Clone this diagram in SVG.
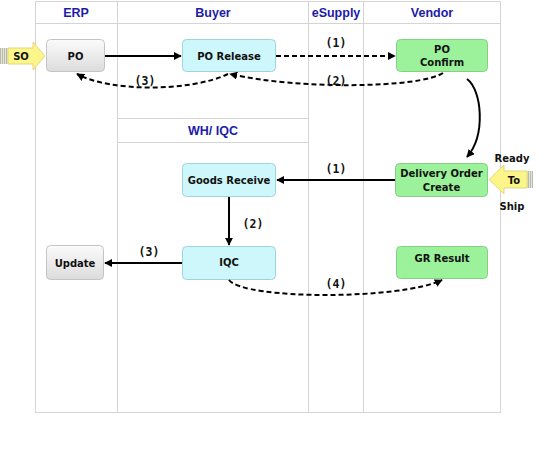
<svg xmlns="http://www.w3.org/2000/svg" width="553" height="453" viewBox="0 0 553 453">
<defs>
<style>
.grid{stroke:#d4d4d4;stroke-width:1;fill:none}
.hdr{font-family:"Liberation Sans",Arial,sans-serif;font-weight:bold;font-size:12.5px;fill:#1c1ca8;text-anchor:middle}
.nt{font-family:"DejaVu Sans",Verdana,sans-serif;font-weight:bold;font-size:10px;fill:#111;text-anchor:middle}
.lbl{font-family:"DejaVu Sans Mono","Liberation Mono",monospace;font-weight:bold;font-size:11.5px;fill:#111;text-anchor:middle}
.gray{fill:url(#gg);stroke:#c4c4c4;stroke-width:1}
.cyan{fill:#cdf7fa;stroke:#9fd4dc;stroke-width:1}
.green{fill:#9bf29b;stroke:#86d086;stroke-width:1}
.solid{stroke:#000;stroke-width:2;fill:none;marker-end:url(#ah)}
.dash{stroke:#000;stroke-width:2;fill:none;stroke-dasharray:5,3;marker-end:url(#ah)}
</style>
<linearGradient id="gg" x1="0" y1="0" x2="0" y2="1">
<stop offset="0" stop-color="#fbfbfb"/>
<stop offset="1" stop-color="#dcdcdc"/>
</linearGradient>
<marker id="ah" viewBox="0 0 10 10" refX="9" refY="5" markerWidth="4" markerHeight="4" orient="auto" markerUnits="strokeWidth">
<path d="M0,0 L10,5 L0,10 z" fill="#000"/>
</marker>
<pattern id="stripe" width="2" height="4" patternUnits="userSpaceOnUse">
<rect width="1" height="4" fill="#b8b8b8"/>
<rect x="1" width="1" height="4" fill="#e6e6c8"/>
</pattern>
</defs>
<rect width="553" height="453" fill="#fff"/>
<g id="grid">
<rect class="grid" x="35.5" y="1.5" width="465" height="411"/>
<line class="grid" x1="35.5" y1="23.5" x2="500.5" y2="23.5"/>
<line class="grid" x1="117.5" y1="1.5" x2="117.5" y2="412.5"/>
<line class="grid" x1="308.5" y1="1.5" x2="308.5" y2="412.5"/>
<line class="grid" x1="363.5" y1="1.5" x2="363.5" y2="412.5"/>
<line class="grid" x1="117.5" y1="118.5" x2="308.5" y2="118.5"/>
<line class="grid" x1="117.5" y1="142.5" x2="308.5" y2="142.5"/>
<text class="hdr" x="76" y="17">ERP</text>
<text class="hdr" x="213" y="17">Buyer</text>
<text class="hdr" x="336" y="17">eSupply</text>
<text class="hdr" x="432" y="17">Vendor</text>
<text class="hdr" x="213" y="135">WH/ IQC</text>
</g>
<g id="so">
<rect x="0" y="48" width="8" height="16" fill="url(#stripe)"/>
<path d="M8,48 L33,48 L33,42 L45,56 L33,70 L33,64 L8,64 z" fill="#fbf58a" stroke="#d8d070" stroke-width="0.8"/>
<text class="nt" x="21" y="60">SO</text>
</g>
<g id="ready">
<rect x="527" y="171" width="6" height="17" fill="url(#stripe)"/>
<path d="M527,171 L504,171 L504,165 L489,179.5 L504,194 L504,188 L527,188 z" fill="#fbf58a" stroke="#d8d070" stroke-width="0.8"/>
<text class="nt" x="514" y="184">To</text>
<text class="nt" x="512" y="162">Ready</text>
<text class="nt" x="512" y="210">Ship</text>
</g>
<g id="n-po"><rect class="gray" x="46.5" y="39.5" width="58" height="32" rx="4"/><text class="nt" x="75.5" y="59.5">PO</text></g>
<g id="n-porelease"><rect class="cyan" x="182.5" y="39.5" width="93" height="32" rx="4"/><text class="nt" x="229" y="59.5">PO Release</text></g>
<g id="n-poconfirm"><rect class="green" x="396.5" y="39.5" width="91" height="32" rx="4"/><text class="nt" x="442" y="53">PO</text><text class="nt" x="442" y="66">Confirm</text></g>
<g id="n-doc"><rect class="green" x="395.5" y="163.5" width="92" height="33" rx="4"/><text class="nt" x="441.5" y="177">Delivery Order</text><text class="nt" x="441.5" y="191">Create</text></g>
<g id="n-gr"><rect class="cyan" x="182.5" y="163.5" width="93" height="33" rx="4"/><text class="nt" x="229" y="184">Goods Receive</text></g>
<g id="n-iqc"><rect class="cyan" x="182.5" y="246.5" width="93" height="33" rx="4"/><text class="nt" x="229" y="266">IQC</text></g>
<g id="n-update"><rect class="gray" x="46.5" y="245.5" width="57" height="34" rx="4"/><text class="nt" x="75" y="267">Update</text></g>
<g id="n-grresult"><rect class="green" x="396.5" y="246.5" width="91" height="32" rx="4"/><text class="nt" x="442" y="262">GR Result</text></g>
<g id="connectors">
<line class="solid" x1="105" y1="56" x2="181" y2="56"/>
<line class="dash" x1="276" y1="56" x2="395" y2="56"/>
<path class="dash" d="M443,73 C420,88 300,90 230,74"/>
<path class="dash" d="M228,74 C190,92 110,92 77,74"/>
<path class="solid" d="M467,79 C482,90 486,135 467,157"/>
<line class="solid" x1="395" y1="180" x2="277" y2="180"/>
<line class="solid" x1="229" y1="197" x2="229" y2="245"/>
<line class="solid" x1="182" y1="263" x2="105" y2="263"/>
<path class="dash" d="M229,280 C245,300 400,300 442,280"/>
<text class="lbl" x="336" y="47">(1)</text>
<text class="lbl" x="336" y="85">(2)</text>
<text class="lbl" x="145" y="85">(3)</text>
<text class="lbl" x="336" y="173">(1)</text>
<text class="lbl" x="253" y="228">(2)</text>
<text class="lbl" x="149" y="256">(3)</text>
<text class="lbl" x="336" y="288">(4)</text>
</g>
</svg>
